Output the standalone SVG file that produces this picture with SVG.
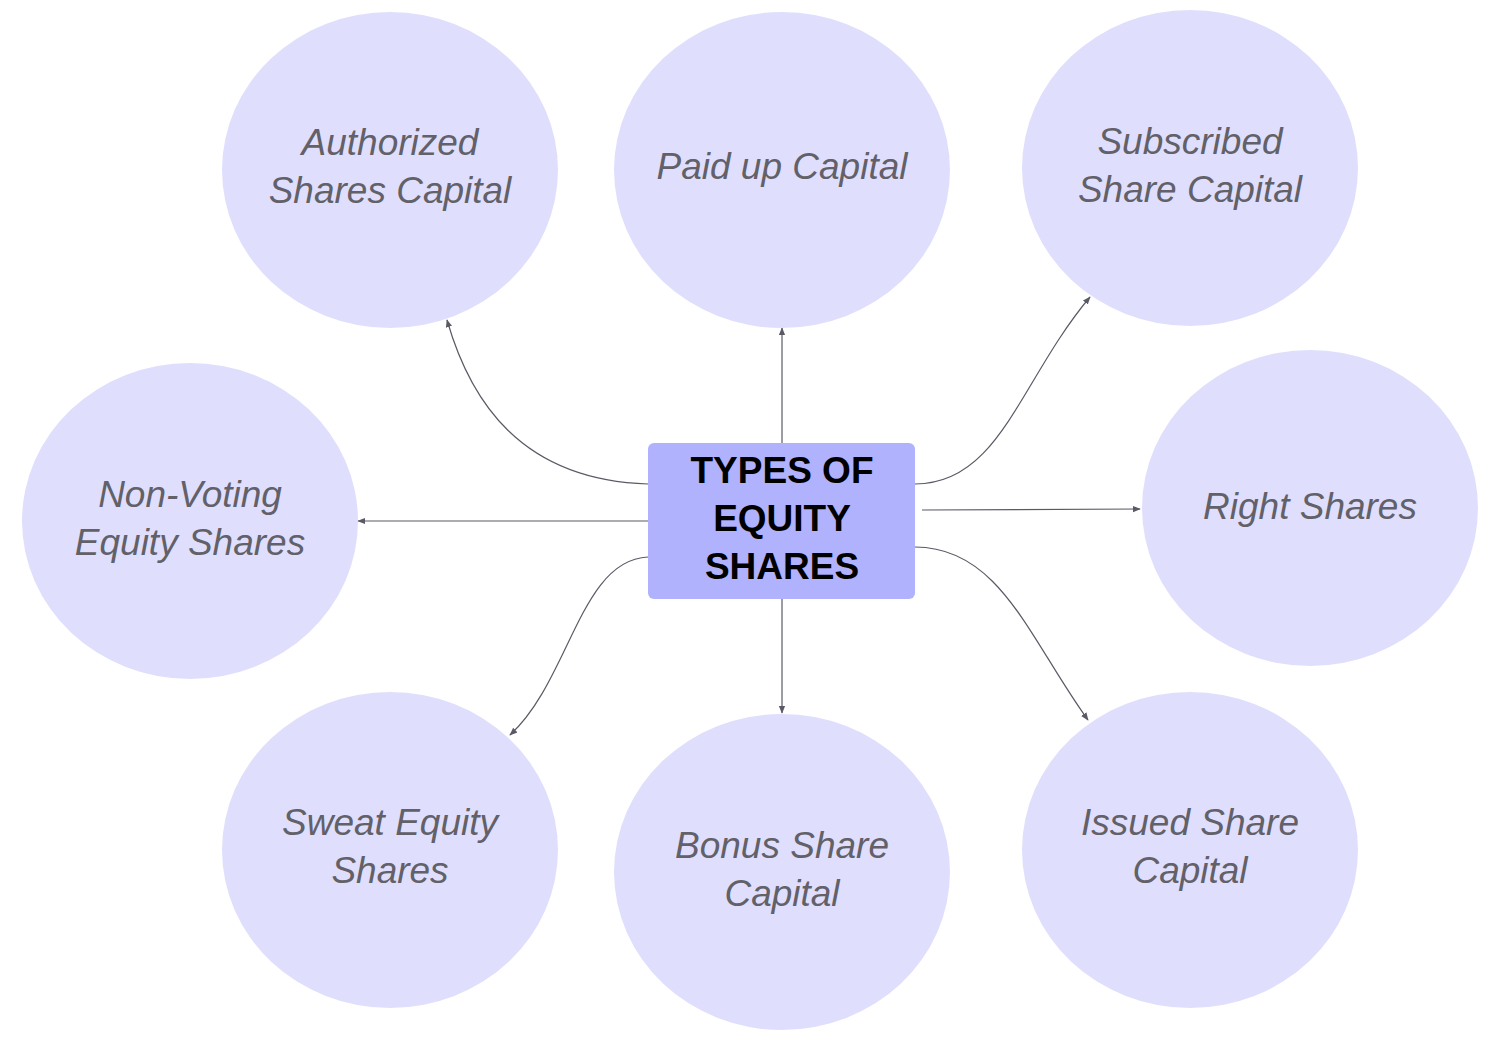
<svg xmlns="http://www.w3.org/2000/svg" width="1502" height="1047" viewBox="0 0 1502 1047">
<style>
.n ellipse{fill:#dfdffd}
.n text{font-family:"Liberation Sans",Arial,sans-serif;font-style:italic;font-size:37px;fill:#626068;text-anchor:middle}
.c path{fill:none;stroke:#5a5a66;stroke-width:1.2;marker-end:url(#a)}
</style>
<defs><marker id="a" viewBox="0 0 10 10" refX="9" refY="5" markerWidth="8" markerHeight="8" orient="auto" markerUnits="userSpaceOnUse"><path d="M0,1 L10,5 L0,9 z" fill="#5a5a66"/></marker></defs>
<rect width="1502" height="1047" fill="#fff"/>
<g class="c">
<path d="M648,484 C520,480 470,400 447,320"/>
<path d="M782,443 L782,328"/>
<path d="M915,484 C1000,484 1020,380 1090,297"/>
<path d="M922,510 L1140,509"/>
<path d="M648,521 L358,521"/>
<path d="M648,557 C580,560 570,680 510,735"/>
<path d="M782,599 L782,713"/>
<path d="M915,547 C1000,547 1030,640 1088,720"/>
</g>
<g id="authorized" class="n"><ellipse cx="390" cy="170" rx="168" ry="158"/><text x="390" y="155">Authorized</text><text x="390" y="203">Shares Capital</text></g>
<g id="paidup" class="n"><ellipse cx="782" cy="170" rx="168" ry="158"/><text x="782" y="179">Paid up Capital</text></g>
<g id="subscribed" class="n"><ellipse cx="1190" cy="168" rx="168" ry="158"/><text x="1190" y="154">Subscribed</text><text x="1190" y="202">Share Capital</text></g>
<g id="right" class="n"><ellipse cx="1310" cy="508" rx="168" ry="158"/><text x="1310" y="519">Right Shares</text></g>
<g id="nonvoting" class="n"><ellipse cx="190" cy="521" rx="168" ry="158"/><text x="190" y="507">Non-Voting</text><text x="190" y="555">Equity Shares</text></g>
<g id="sweat" class="n"><ellipse cx="390" cy="850" rx="168" ry="158"/><text x="390" y="835">Sweat Equity</text><text x="390" y="883">Shares</text></g>
<g id="bonus" class="n"><ellipse cx="782" cy="872" rx="168" ry="158"/><text x="782" y="858">Bonus Share</text><text x="782" y="906">Capital</text></g>
<g id="issued" class="n"><ellipse cx="1190" cy="850" rx="168" ry="158"/><text x="1190" y="835">Issued Share</text><text x="1190" y="883">Capital</text></g>
<g id="center"><rect x="648" y="443" width="267" height="156" rx="6" fill="#b0b2fe"/>
<g font-family="Liberation Sans,Arial,sans-serif" font-weight="bold" font-size="37" text-anchor="middle" fill="#000"><text x="782" y="483">TYPES OF</text><text x="782" y="531">EQUITY</text><text x="782" y="579">SHARES</text></g></g>
</svg>
